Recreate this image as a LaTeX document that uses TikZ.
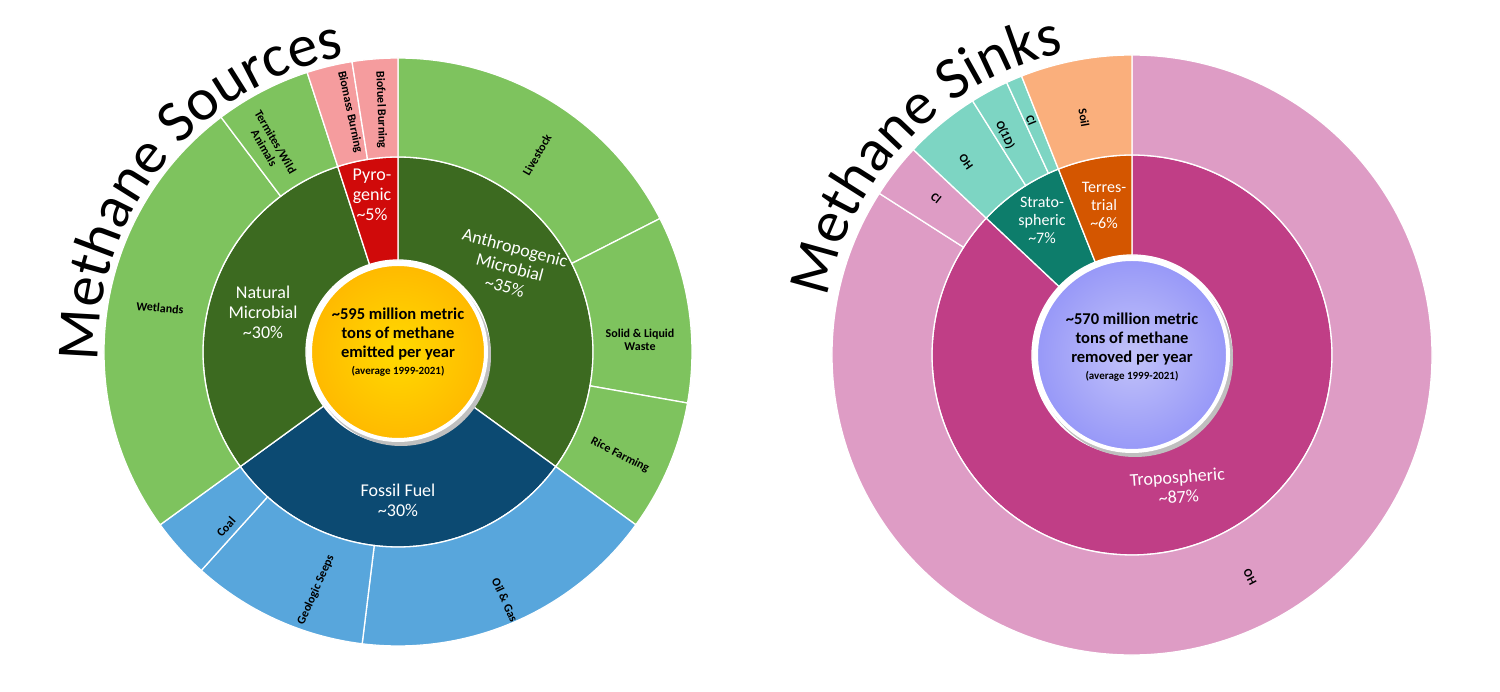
\documentclass[tikz,border=0pt]{standalone}
\usepackage{fontspec}
\setmainfont{Carlito}
\usetikzlibrary{calc,decorations.text}
\definecolor{lgreen}{HTML}{7EC35E}
\definecolor{dgreen}{HTML}{3C6A20}
\definecolor{pyro}{HTML}{D00A0A}
\definecolor{lpink}{HTML}{F59C9E}
\definecolor{navy}{HTML}{0C4A72}
\definecolor{lblue}{HTML}{58A6DC}
\definecolor{gold}{HTML}{FFC000}
\definecolor{spink}{HTML}{DE9CC5}
\definecolor{magen}{HTML}{C03E86}
\definecolor{teal}{HTML}{0D7D6B}
\definecolor{lteal}{HTML}{7DD5C3}
\definecolor{orng}{HTML}{D45600}
\definecolor{peach}{HTML}{FAAF7C}
\definecolor{lav}{HTML}{A8A9F7}
\tikzset{sectline/.style={draw=white,line width=1.3pt},
 olab/.style={font=\fontsize{12}{13}\selectfont\bfseries,align=center,text=black},
 mlab/.style={font=\fontsize{18}{20}\selectfont,align=center,text=white},
 slab/.style={font=\fontsize{16}{18}\selectfont,align=center,text=white,inner sep=1pt},
 clab/.style={font=\fontsize{16.5}{19}\selectfont\bfseries,align=center,text=black}}
\newcommand\sect[5]{\filldraw[fill=#5,sectline] ($(\ccx,\ccy)+({90-(#3)}:#1pt)$) arc[start angle={90-(#3)}, end angle={90-(#4)}, radius=#1pt] -- ($(\ccx,\ccy)+({90-(#4)}:#2pt)$) arc[start angle={90-(#4)}, end angle={90-(#3)}, radius=#2pt] -- cycle;}
\begin{document}
\begin{tikzpicture}[x=1pt,y=1pt]
\useasboundingbox (0,0) rectangle (1500,692);
% ---------- Sources ----------
\def\ccx{398}\def\ccy{340}
\sect{92}{195}{0}{126}{dgreen}
\sect{92}{195}{126}{234}{navy}
\sect{92}{195}{234}{342}{dgreen}
\sect{92}{195}{342}{360}{pyro}
\sect{195}{294}{0}{63}{lgreen}
\sect{195}{294}{63}{100}{lgreen}
\sect{195}{294}{100}{126}{lgreen}
\sect{195}{294}{126}{187}{lblue}
\sect{195}{294}{187}{222}{lblue}
\sect{195}{294}{222}{234}{lblue}
\sect{195}{294}{234}{323}{lgreen}
\sect{195}{294}{323}{342}{lgreen}
\sect{195}{294}{342}{351}{lpink}
\sect{195}{294}{351}{360}{lpink}
\fill[black!25] (\ccx+3,\ccy-4) circle (90pt);
\filldraw[draw=white,line width=4pt,inner color=gold!60!yellow,outer color=gold!90!orange] (\ccx,\ccy) circle (88pt);
\node[clab] at (398,350) {\textasciitilde595 million metric\\tons of methane\\emitted per year\\[-2pt]{\fontsize{11}{12}\selectfont(average 1999-2021)}};
\node[olab,rotate=60] at (537,537) {Livestock};
\node[olab] at (640,352) {Solid \& Liquid\\Waste};
\node[olab,rotate=-27] at (620,237) {Rice Farming};
\node[olab,rotate=-65] at (505,92) {Oil \& Gas};
\node[olab,rotate=66] at (316,102) {Geologic Seeps};
\node[olab,rotate=48] at (226,165) {Coal};
\node[olab,rotate=-5] at (160,384) {Wetlands};
\node[olab,rotate=-60] at (270,547) {Termites/Wild\\Animals};
\node[olab,rotate=-78] at (350,580) {Biomass Burning};
\node[olab,rotate=-88] at (381,582) {Biofuel Burning};
\node[mlab] at (263,380) {Natural\\Microbial\\\textasciitilde30\%};
\node[mlab] at (372,497) {Pyro-\\genic\\\textasciitilde5\%};
\node[mlab,rotate=-15] at (510,425) {Anthropogenic\\Microbial\\\textasciitilde35\%};
\node[mlab] at (398,192) {Fossil Fuel\\\textasciitilde30\%};
\path[decorate,decoration={text along path,text align=center,
  text={|\fontsize{60}{60}\selectfont|Methane Sources}}]
  (\ccx,\ccy) ++(190:300pt) arc[start angle=190,end angle=92,radius=300pt];
% ---------- Sinks ----------
\def\ccx{1132}\def\ccy{337}
\sect{100}{200}{0}{313.2}{magen}
\sect{100}{200}{313.2}{338.4}{teal}
\sect{100}{200}{338.4}{360}{orng}
\sect{200}{300}{0}{302.6}{spink}
\sect{200}{300}{302.6}{313.2}{spink}
\sect{200}{300}{313.2}{327.9}{lteal}
\sect{200}{300}{327.9}{335.3}{lteal}
\sect{200}{300}{335.3}{338.4}{lteal}
\sect{200}{300}{338.4}{360}{peach}
\fill[black!25] (\ccx+3,\ccy-4) circle (98pt);
\filldraw[draw=white,line width=4pt,inner color=lav!70!white,outer color=lav!90!blue] (\ccx,\ccy) circle (96pt);
\node[clab] at (1132,345) {\textasciitilde570 million metric\\tons of methane\\removed per year\\[-2pt]{\fontsize{11}{12}\selectfont(average 1999-2021)}};
\node[olab,rotate=-80] at (1084,574) {Soil};
\node[olab,rotate=-68] at (1031,572) {Cl};
\node[olab,rotate=-65] at (1005,557) {O(1D)};
\node[olab,rotate=-55] at (966,530) {OH};
\node[olab,rotate=-38] at (936,494) {Cl};
\node[olab,rotate=-62] at (1250,115) {OH};
\node[slab] at (1104,487) {Terres-\\trial\\\textasciitilde6\%};
\node[slab] at (1042,472) {Strato-\\spheric\\\textasciitilde7\%};
\node[mlab,rotate=4] at (1178,205) {Tropospheric\\\textasciitilde87\%};
\path[decorate,decoration={text along path,text align=center,
  text={|\fontsize{60}{60}\selectfont|Methane Sinks}}]
  (\ccx,\ccy) ++(176:310pt) arc[start angle=176,end angle=96,radius=310pt];
\end{tikzpicture}
\end{document}
